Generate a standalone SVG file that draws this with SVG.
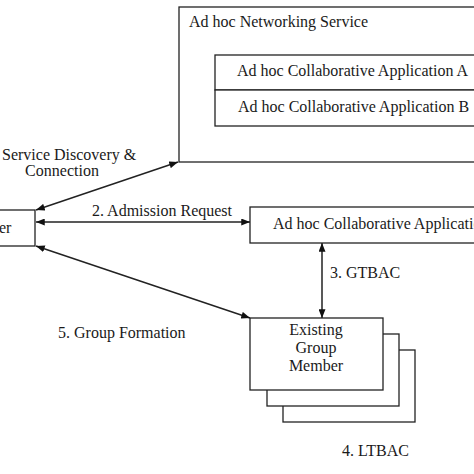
<svg xmlns="http://www.w3.org/2000/svg" width="474" height="474" viewBox="0 0 474 474">
<style>
.box{fill:#fff;stroke:#222;stroke-width:1.3}
.ln{stroke:#222;stroke-width:1.5;fill:none;marker-start:url(#ah);marker-end:url(#ah)}
</style>
<defs>
<marker id="ah" viewBox="0 0 10 8" refX="10" refY="4" markerWidth="9" markerHeight="7" markerUnits="userSpaceOnUse" orient="auto-start-reverse">
<path d="M0,0 L10,4 L0,8 Z" fill="#111"/>
</marker>
</defs>
<rect width="474" height="474" fill="#fff"/>
<g font-family="Liberation Serif" font-size="16" fill="#1a1a1a">
<g id="networking-service">
<rect class="box" x="179" y="7" width="310" height="155"/>
<text x="189" y="27">Ad hoc Networking Service</text>
</g>
<g id="app-a">
<rect class="box" x="215" y="55" width="270" height="35"/>
<text x="237" y="76">Ad hoc Collaborative Application A</text>
</g>
<g id="app-b">
<rect class="box" x="215" y="90" width="270" height="36"/>
<text x="238" y="112">Ad hoc Collaborative Application B</text>
</g>
<g id="user">
<rect class="box" x="-20" y="210" width="55" height="36"/>
<text x="-1" y="233">er</text>
</g>
<g id="collab-app">
<rect class="box" x="250" y="207" width="240" height="36"/>
<text x="273" y="229">Ad hoc Collaborative Application</text>
</g>
<g id="group-member">
<rect class="box" x="283" y="350" width="132" height="72"/>
<rect class="box" x="267" y="334" width="132" height="72"/>
<rect class="box" x="250" y="318" width="133" height="72"/>
<text text-anchor="middle" x="316" y="335">Existing</text>
<text text-anchor="middle" x="316" y="353">Group</text>
<text text-anchor="middle" x="316" y="371">Member</text>
</g>
<g id="connectors">
<line class="ln" x1="36" y1="210" x2="178" y2="162"/>
<line class="ln" x1="36" y1="222" x2="250" y2="222"/>
<line class="ln" x1="322" y1="243" x2="322" y2="318"/>
<line class="ln" x1="36" y1="246" x2="250" y2="318"/>
</g>
<g id="labels">
<text x="2" y="160">Service Discovery &amp;</text>
<text text-anchor="middle" x="62" y="176">Connection</text>
<text x="92" y="216">2. Admission Request</text>
<text x="330" y="278">3. GTBAC</text>
<text x="58" y="338">5. Group Formation</text>
<text x="342" y="456">4. LTBAC</text>
</g>
</g>
</svg>
